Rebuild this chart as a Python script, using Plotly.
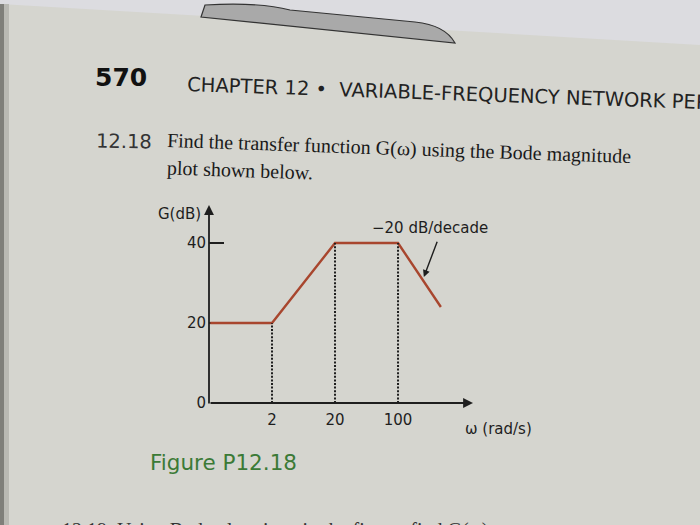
import plotly.graph_objects as go

# schematic Bode magnitude plot (break frequencies drawn evenly spaced, as in the book)
w_tick_pos = [1, 2, 3]
w_tick_text = ["2", "20", "100"]
curve_pos = [0.02, 1, 2, 3, 3.68]
curve_db = [20, 20, 40, 40, 24]
db_ticks = [0, 20, 40]
db_tick_text = ["0", "20", "40"]

# page geometry in pixels (700x525 window)
L, R, T, B = 209, 473, 205, 403
X_MAX = 4.19
Y_MAX = 49.5

PAGE = "#d5d5cf"
INK = "#1e1e1e"
CURVE = "#a8462e"
SANS = "DejaVu Sans"
SERIF = "Liberation Serif"


def px(x):
    return (x - L) / (R - L)


def py(y):
    return (B - y) / (B - T)


fig = go.Figure()

fig.add_trace(go.Scatter(x=curve_pos, y=curve_db, mode="lines",
                         line=dict(color=CURVE, width=2.4), hoverinfo="skip"))

for p in w_tick_pos:
    level = curve_db[curve_pos.index(p)]
    fig.add_trace(go.Scatter(x=[p, p], y=[0, level], mode="lines",
                             line=dict(color=INK, width=2, dash="2px,1.6px"),
                             hoverinfo="skip"))


def text(x, y, s, size, family=SANS, color=INK, xanchor="center", yanchor="middle", angle=0):
    return dict(x=px(x), y=py(y), xref="paper", yref="paper", text=s, showarrow=False,
                xanchor=xanchor, yanchor=yanchor, textangle=angle,
                font=dict(family=family, size=size, color=color))


ann = []
# axes with arrow heads
ann.append(dict(x=X_MAX, y=0, ax=0, ay=0, xref="x", yref="y", axref="x", ayref="y",
                text="", showarrow=True, arrowhead=2, arrowsize=1.1, arrowwidth=1.8,
                arrowcolor=INK, standoff=0))
ann.append(dict(x=0, y=Y_MAX, ax=0, ay=-0.5, xref="x", yref="y", axref="x", ayref="y",
                text="", showarrow=True, arrowhead=2, arrowsize=1.1, arrowwidth=1.8,
                arrowcolor=INK, standoff=0))
# slope pointer
ann.append(dict(x=3.41, y=31.5, ax=3.63, ay=40.7, xref="x", yref="y", axref="x", ayref="y",
                text="", showarrow=True, arrowhead=2, arrowsize=1, arrowwidth=1.4,
                arrowcolor=INK, standoff=0))
ann.append(text(430, 228, "\u221220 dB/decade", 15))

# axis titles
ann.append(text(179, 214, "G(dB)", 15))
ann.append(text(498, 429, "\u03c9 (rad/s)", 15))

# page text
ann.append(text(93, 77, "<b>570</b>", 25, color="#111", xanchor="left"))
ann.append(text(185, 95, "CHAPTER 12 \u2022  VARIABLE-FREQUENCY NETWORK PERFORMANCE", 19.5,
                color="#222", xanchor="left", angle=2))
ann.append(text(94, 141, "12.18", 19.5, color="#333", xanchor="left", angle=1))
ann.append(text(165, 148, "Find the transfer function G(\u03c9) using the Bode magnitude", 20,
                family=SERIF, color="#1a1a1a", xanchor="left", angle=2))
ann.append(text(165, 170, "plot shown below.", 20,
                family=SERIF, color="#1a1a1a", xanchor="left", angle=2))
ann.append(text(148, 462, "Figure P12.18", 21.5, color="#3b7a36", xanchor="left"))
ann.append(text(60, 517, "12.19  Using Bode plot given in the figure, find G(\u03c9)", 20,
                family=SERIF, color="#333", xanchor="left", yanchor="top"))

# top of the photo: the next sheet and its tab above the page edge, shadow at the left
shapes = [
    dict(type="path", xref="paper", yref="paper",
         path=f"M {px(0)},{py(0)} L {px(700)},{py(0)} L {px(700)},{py(45)} L {px(0)},{py(4)} Z",
         fillcolor="#dcdce0", line=dict(width=0), layer="below"),
    dict(type="path", xref="paper", yref="paper",
         path=(f"M {px(201)},{py(17)} L {px(205)},{py(5)} Q {px(260)},{py(2)} {px(290)},{py(10)} "
               f"L {px(415)},{py(22)} Q {px(445)},{py(25)} {px(455)},{py(43)} Z"),
         fillcolor="#a9a9a9", line=dict(color="#333", width=1.2), layer="below"),
    dict(type="rect", xref="paper", yref="paper",
         x0=px(0), x1=px(4), y0=py(525), y1=py(4),
         fillcolor="#7f7f7a", line=dict(width=0), layer="below"),
    dict(type="rect", xref="paper", yref="paper",
         x0=px(4), x1=px(9), y0=py(525), y1=py(4),
         fillcolor="#b9b9b3", line=dict(width=0), layer="below"),
]

fig.update_layout(
    width=700, height=525,
    margin=dict(l=L, r=700 - R, t=T, b=525 - B),
    paper_bgcolor=PAGE, plot_bgcolor="rgba(0,0,0,0)",
    showlegend=False,
    annotations=ann, shapes=shapes,
    xaxis=dict(range=[0, X_MAX], showgrid=False, zeroline=False, showline=False,
               tickvals=w_tick_pos, ticktext=w_tick_text, ticks="", ticklabelstandoff=6,
               tickfont=dict(family=SANS, size=15, color=INK), fixedrange=True),
    # ticks sit below the traces, so only the 40 dB tick shows (the curve covers 20)
    yaxis=dict(range=[0, Y_MAX], showgrid=False, zeroline=False, showline=False,
               tickvals=db_ticks, ticktext=db_tick_text, ticks="inside", ticklen=15,
               tickwidth=1.6, tickcolor=INK, layer="below traces", ticklabelstandoff=2,
               tickfont=dict(family=SANS, size=15, color=INK), fixedrange=True),
)

# the page has no body margin, so the figure fills the window exactly
fig.write_html("out.html", config={"displayModeBar": False},
               post_script="document.body.style.margin = '0';")
